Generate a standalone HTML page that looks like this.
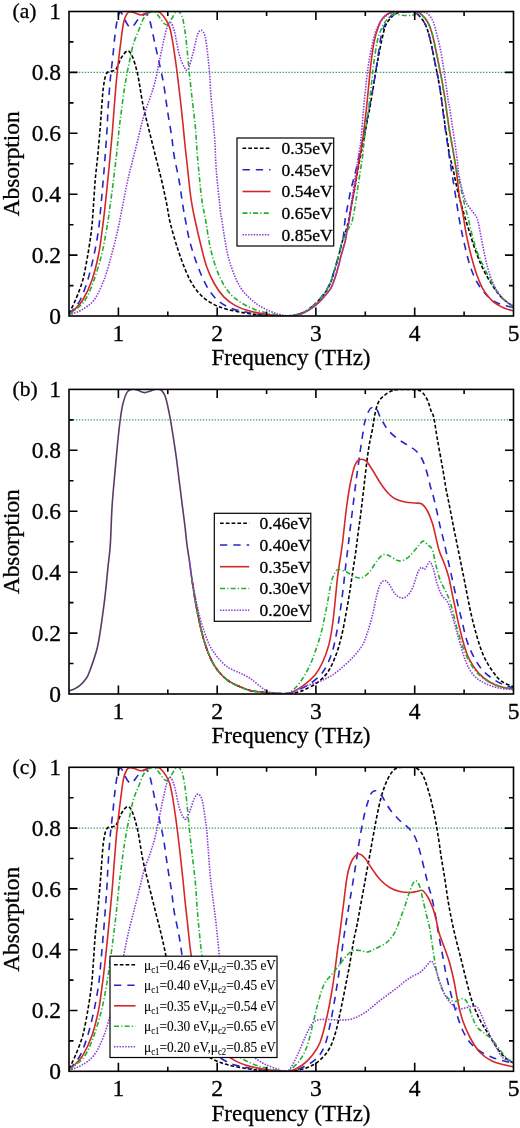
<!DOCTYPE html><html><head><meta charset="utf-8"><style>html,body{margin:0;padding:0;background:#fff;}svg{display:block;}</style></head><body>
<svg width="520" height="1128" viewBox="0 0 520 1128">
<rect width="520" height="1128" fill="#fff"/>
<clipPath id="clipa"><rect x="69.0" y="11.5" width="444.5" height="304.5"/></clipPath>
<line x1="73.0" x2="513.5" y1="72.4" y2="72.4" stroke="#38a060" stroke-width="1.4" stroke-dasharray="1.4 1.55"/>
<g clip-path="url(#clipa)" fill="none" stroke-width="1.60" stroke-linejoin="round">
<path d="M69.0 313.5 C69.3 312.8 69.9 311.8 71.0 309.5 C72.1 307.2 73.5 304.9 75.5 300.0 C77.5 295.1 80.7 287.5 82.8 280.0 C84.8 272.5 86.3 263.3 87.8 255.0 C89.2 246.7 90.5 238.3 91.5 230.0 C92.5 221.7 92.9 213.3 93.5 205.0 C94.1 196.7 94.5 188.3 95.2 180.0 C96.0 171.7 97.0 163.3 97.8 155.0 C98.5 146.7 99.4 137.5 100.0 130.0 C100.6 122.5 101.0 117.0 101.5 110.0 C102.0 103.0 102.6 93.7 103.3 88.0 C104.0 82.3 104.6 78.8 105.5 76.0 C106.4 73.2 107.3 72.3 108.5 71.5 C109.7 70.7 111.2 71.5 112.5 71.0 C113.8 70.5 115.0 70.8 116.5 68.5 C118.0 66.2 119.6 60.5 121.5 57.5 C123.4 54.5 125.9 50.8 127.8 50.8 C129.6 50.8 131.1 53.5 132.8 57.5 C134.4 61.5 136.0 67.1 137.8 75.0 C139.5 82.9 141.1 95.8 143.0 105.0 C144.9 114.2 147.0 121.7 149.0 130.0 C151.0 138.3 153.2 146.7 155.2 155.0 C157.3 163.3 159.6 172.0 161.5 180.0 C163.4 188.0 165.0 195.7 166.5 203.0 C168.0 210.3 168.6 216.4 170.5 224.0 C172.4 231.6 175.2 241.1 177.7 248.8 C180.2 256.5 182.8 263.9 185.4 270.0 C188.0 276.1 190.2 280.9 193.1 285.4 C196.0 289.9 199.2 293.7 202.7 296.9 C206.2 300.1 210.0 302.5 214.2 304.6 C218.4 306.7 222.2 307.9 227.7 309.4 C233.1 310.8 240.5 312.3 246.9 313.3 C253.3 314.3 259.6 315.0 266.0 315.5 C272.4 316.0 279.3 316.5 285.0 316.2 C290.7 315.9 296.2 314.9 300.0 313.8 C303.8 312.7 305.3 311.6 308.0 309.8 C310.7 308.0 313.5 305.5 316.1 303.0 C318.7 300.5 321.2 298.1 323.5 295.0 C325.8 291.9 328.1 288.3 329.9 284.5 C331.7 280.7 332.8 276.2 334.1 272.0 C335.4 267.8 336.6 263.6 337.9 259.0 C339.1 254.4 340.7 248.2 341.6 244.5 C342.5 240.8 342.9 238.8 343.5 237.0 C344.1 235.2 344.4 235.7 345.0 234.0 C345.6 232.3 346.4 229.3 347.0 227.1 C347.6 224.9 347.9 223.7 348.5 220.8 C349.1 218.0 349.8 213.5 350.5 210.0 C351.2 206.5 351.8 203.7 352.5 200.0 C353.2 196.3 354.1 192.2 354.8 188.0 C355.6 183.8 356.2 179.3 357.0 175.0 C357.8 170.7 358.5 166.2 359.3 162.0 C360.1 157.8 360.8 154.3 361.7 150.0 C362.6 145.7 363.6 140.7 364.5 136.0 C365.4 131.3 366.1 126.7 367.0 122.0 C367.9 117.3 368.6 114.6 369.8 108.0 C371.0 101.4 372.7 90.4 374.0 82.6 C375.3 74.8 376.3 68.4 377.6 61.3 C378.9 54.2 380.5 45.8 381.8 40.0 C383.1 34.2 384.0 29.9 385.2 26.5 C386.4 23.1 387.6 21.8 389.2 19.8 C390.8 17.8 392.8 15.6 394.6 14.4 C396.4 13.2 397.4 12.8 400.0 12.4 C402.6 12.0 407.5 12.0 410.0 12.0 C412.5 12.0 413.5 12.0 415.0 12.6 C416.5 13.2 417.5 13.9 419.2 15.8 C420.9 17.7 423.4 20.9 425.0 23.8 C426.6 26.7 427.4 29.6 428.5 33.1 C429.6 36.6 430.4 40.8 431.3 44.6 C432.2 48.5 432.9 52.4 433.7 56.2 C434.5 60.1 435.2 63.9 436.0 67.7 C436.8 71.5 437.5 75.0 438.3 79.2 C439.1 83.4 440.0 89.2 440.6 93.0 C441.2 96.8 441.2 96.9 441.9 102.0 C442.6 107.1 443.8 116.6 444.8 123.4 C445.8 130.2 446.9 137.2 447.7 142.6 C448.5 148.0 448.7 151.7 449.6 156.0 C450.5 160.3 451.6 162.6 452.9 168.3 C454.2 174.0 455.8 183.2 457.5 190.2 C459.2 197.2 461.1 203.9 462.9 210.3 C464.7 216.7 466.4 222.2 468.4 228.6 C470.4 235.0 472.5 242.2 474.8 248.6 C477.1 255.0 479.4 261.1 482.1 266.9 C484.8 272.7 488.1 278.5 491.2 283.4 C494.2 288.3 497.0 292.5 500.4 296.1 C503.8 299.8 509.0 303.5 511.3 305.3 C513.6 307.1 513.5 306.7 514.0 307.0" stroke="#000000" stroke-dasharray="3.7 2.1"/>
<path d="M69.0 314.0 C69.6 313.3 70.9 312.3 72.8 310.0 C74.6 307.7 77.8 305.0 80.2 300.0 C82.8 295.0 85.5 287.5 87.8 280.0 C90.0 272.5 92.2 263.3 94.0 255.0 C95.8 246.7 97.3 238.3 98.5 230.0 C99.7 221.7 100.2 213.3 101.0 205.0 C101.8 196.7 102.5 188.3 103.2 180.0 C104.0 171.7 104.6 163.3 105.2 155.0 C105.9 146.7 106.5 137.5 107.0 130.0 C107.5 122.5 107.5 117.5 108.0 110.0 C108.5 102.5 109.2 92.0 109.8 85.0 C110.3 78.0 110.9 73.1 111.5 68.0 C112.1 62.9 112.5 59.4 113.1 54.2 C113.6 49.0 114.2 41.8 114.8 36.8 C115.4 31.8 115.9 27.6 116.5 24.0 C117.1 20.4 117.8 16.9 118.5 15.0 C119.2 13.1 120.1 11.8 121.0 12.3 C121.9 12.8 122.9 15.9 124.0 18.0 C125.1 20.1 126.6 23.4 127.8 25.0 C128.9 26.6 130.0 27.5 131.0 27.5 C132.0 27.5 132.8 26.4 134.0 25.0 C135.2 23.6 136.8 20.8 138.5 19.0 C140.2 17.2 142.6 15.3 144.0 14.5 C145.4 13.7 146.0 12.8 147.0 14.0 C148.0 15.2 148.9 16.8 150.2 22.0 C151.6 27.2 153.6 37.4 155.2 45.0 C156.9 52.6 158.8 60.7 160.2 67.5 C161.7 74.3 162.8 78.6 164.0 86.0 C165.2 93.4 166.4 103.8 167.7 112.0 C168.9 120.2 170.4 127.8 171.5 135.0 C172.6 142.2 172.8 147.5 174.0 155.0 C175.2 162.5 177.5 171.7 179.0 180.0 C180.5 188.3 181.7 198.3 182.8 205.0 C183.8 211.7 184.3 214.3 185.4 220.0 C186.5 225.7 187.6 232.8 189.2 239.2 C190.8 245.6 192.9 252.4 195.0 258.5 C197.1 264.6 199.4 270.7 201.7 275.8 C203.9 280.9 205.8 285.0 208.5 289.2 C211.2 293.4 214.3 297.6 218.1 300.8 C221.9 304.0 226.7 306.6 231.5 308.5 C236.3 310.4 241.3 311.2 246.9 312.3 C252.5 313.4 258.6 314.7 265.0 315.3 C271.4 315.9 279.2 316.4 285.0 316.2 C290.8 315.9 296.2 314.9 300.0 313.8 C303.8 312.7 305.3 311.6 308.0 309.8 C310.7 308.0 313.5 305.4 316.1 302.8 C318.7 300.2 321.2 297.5 323.5 294.3 C325.8 291.1 328.1 287.5 329.9 283.6 C331.7 279.7 332.8 275.1 334.1 270.9 C335.4 266.6 336.6 262.7 337.9 258.1 C339.1 253.5 340.7 246.7 341.6 243.2 C342.5 239.7 342.8 239.8 343.3 236.9 C343.8 234.0 344.0 229.4 344.4 226.0 C344.8 222.6 345.2 218.5 345.6 216.2 C346.0 213.9 346.0 214.5 346.5 212.0 C347.0 209.5 347.8 205.2 348.6 201.1 C349.4 197.0 350.3 192.0 351.4 187.5 C352.5 183.0 353.9 178.5 355.0 173.9 C356.1 169.3 357.2 164.8 358.3 160.0 C359.4 155.2 360.4 150.0 361.5 145.0 C362.6 140.0 363.6 136.7 365.0 130.0 C366.4 123.3 368.3 112.9 369.8 105.0 C371.3 97.1 372.8 89.9 374.0 82.6 C375.2 75.3 376.2 68.4 377.3 61.3 C378.4 54.2 379.3 45.7 380.4 40.0 C381.5 34.3 382.8 30.2 384.0 27.0 C385.2 23.8 386.2 22.5 387.5 20.5 C388.8 18.5 390.2 16.3 392.0 15.0 C393.8 13.7 395.0 13.0 398.0 12.5 C401.0 12.0 407.2 11.9 410.0 12.0 C412.8 12.1 413.5 12.2 415.0 12.8 C416.5 13.4 417.5 14.0 419.2 15.8 C420.9 17.6 423.4 20.9 425.0 23.8 C426.6 26.7 427.4 29.6 428.5 33.1 C429.6 36.6 430.4 40.8 431.3 44.6 C432.2 48.5 432.9 52.4 433.7 56.2 C434.5 60.1 435.2 63.9 436.0 67.7 C436.8 71.5 437.5 75.0 438.3 79.2 C439.1 83.4 440.0 89.2 440.6 93.0 C441.2 96.8 441.2 96.9 441.9 102.0 C442.5 107.1 443.6 116.6 444.5 123.4 C445.4 130.2 446.6 137.8 447.3 142.6 C448.0 147.4 448.0 147.7 448.6 152.0 C449.2 156.3 450.1 161.9 451.1 168.3 C452.1 174.7 453.3 181.7 454.7 190.2 C456.1 198.7 457.8 210.9 459.3 219.4 C460.8 227.9 462.1 234.0 463.8 241.3 C465.5 248.6 467.2 256.6 469.3 263.3 C471.4 270.0 473.6 276.0 476.6 281.5 C479.7 287.0 483.9 292.4 487.6 296.1 C491.3 299.8 494.7 301.7 498.6 303.5 C502.6 305.3 508.7 306.4 511.3 307.1 C513.9 307.8 513.5 307.4 514.0 307.5" stroke="#2525c8" stroke-dasharray="7.3 6"/>
<path d="M69.0 314.5 C69.8 313.8 71.7 312.4 74.0 310.0 C76.3 307.6 79.8 305.0 82.8 300.0 C85.8 295.0 89.4 287.5 92.0 280.0 C94.6 272.5 96.8 263.3 98.5 255.0 C100.2 246.7 101.1 238.3 102.2 230.0 C103.4 221.7 104.3 213.3 105.2 205.0 C106.2 196.7 106.9 188.3 107.8 180.0 C108.6 171.7 109.5 163.3 110.2 155.0 C111.0 146.7 111.9 137.5 112.5 130.0 C113.1 122.5 113.4 117.5 114.0 110.0 C114.6 102.5 115.4 92.0 116.0 85.0 C116.6 78.0 117.0 74.1 117.7 68.0 C118.4 61.9 119.0 55.9 120.0 48.4 C121.0 40.9 122.3 28.8 123.5 23.0 C124.7 17.2 125.9 15.7 127.0 13.8 C128.1 11.9 128.7 11.9 130.0 11.8 C131.3 11.7 133.2 12.5 135.0 13.0 C136.8 13.5 138.9 15.1 141.0 15.0 C143.1 14.9 145.7 13.2 147.7 12.6 C149.7 12.0 151.3 11.6 153.0 11.5 C154.7 11.4 156.8 11.6 158.0 11.8 C159.2 12.1 159.2 11.7 160.5 13.0 C161.8 14.3 164.3 17.2 165.8 19.6 C167.3 22.0 168.5 23.8 169.6 27.3 C170.7 30.8 171.5 35.3 172.5 40.8 C173.5 46.2 174.5 53.9 175.4 60.0 C176.3 66.1 176.9 70.9 177.7 77.3 C178.5 83.7 179.3 90.5 180.2 98.5 C181.1 106.5 182.3 117.7 183.1 125.4 C183.9 133.2 184.3 138.4 185.0 145.0 C185.7 151.6 186.2 156.3 187.2 165.0 C188.2 173.7 189.5 188.1 190.8 197.3 C192.1 206.5 193.3 212.1 195.0 220.0 C196.7 227.9 198.9 237.3 200.8 245.0 C202.7 252.7 204.3 259.8 206.5 266.2 C208.7 272.6 211.3 278.4 214.2 283.5 C217.1 288.6 220.3 293.2 223.8 296.9 C227.3 300.6 230.9 303.2 235.4 305.6 C239.9 308.0 245.7 309.9 250.8 311.3 C255.9 312.7 260.5 313.4 266.2 314.2 C271.9 315.0 281.0 315.7 285.0 316.0 C289.0 316.3 287.5 316.3 290.0 316.0 C292.5 315.7 297.0 315.1 300.0 314.2 C303.0 313.3 305.3 312.1 308.0 310.5 C310.7 308.9 313.5 307.1 316.1 304.9 C318.7 302.7 321.0 300.2 323.5 297.4 C326.0 294.6 329.1 291.3 331.0 287.9 C332.9 284.5 333.9 281.1 335.2 277.2 C336.5 273.3 337.9 268.0 338.9 264.5 C339.9 261.0 339.9 259.9 341.0 256.0 C342.1 252.1 344.3 245.1 345.3 241.0 C346.3 236.9 346.4 234.3 347.0 231.2 C347.6 228.1 348.2 225.7 348.8 222.5 C349.4 219.3 349.9 215.8 350.5 212.0 C351.1 208.2 351.8 204.0 352.5 200.0 C353.2 196.0 353.9 192.2 354.6 188.0 C355.3 183.8 356.0 179.2 356.7 175.0 C357.4 170.8 358.0 167.0 358.7 163.0 C359.4 159.0 360.2 154.9 360.9 151.0 C361.6 147.1 361.8 146.0 362.7 139.3 C363.6 132.6 365.1 120.4 366.2 110.9 C367.2 101.5 368.2 90.9 369.0 82.6 C369.8 74.3 370.3 68.4 371.2 61.3 C372.1 54.2 373.3 45.8 374.5 40.0 C375.7 34.2 377.2 30.1 378.5 26.5 C379.8 22.9 380.9 20.6 382.5 18.5 C384.1 16.4 385.9 14.8 387.9 13.7 C389.9 12.6 390.9 12.1 394.6 11.7 C398.3 11.3 406.3 11.5 410.0 11.5 C413.7 11.5 415.1 11.3 417.0 11.8 C418.9 12.3 419.8 13.0 421.5 14.6 C423.2 16.2 425.7 18.8 427.3 21.5 C428.9 24.2 430.2 27.3 431.3 30.8 C432.4 34.3 433.2 38.1 434.2 42.3 C435.2 46.5 436.2 52.0 437.1 56.2 C438.0 60.4 438.6 63.9 439.4 67.7 C440.2 71.5 440.9 75.0 441.7 79.2 C442.5 83.4 443.4 89.5 444.0 93.0 C444.6 96.5 444.8 97.2 445.2 100.0 C445.6 102.8 445.9 105.5 446.5 110.0 C447.1 114.5 448.1 121.9 448.9 127.2 C449.7 132.5 450.7 137.4 451.5 142.0 C452.3 146.6 453.0 150.0 453.8 155.0 C454.6 160.0 455.6 165.1 456.5 171.9 C457.4 178.7 458.2 188.7 459.3 195.7 C460.4 202.7 461.7 207.2 462.9 213.9 C464.1 220.6 465.2 228.9 466.6 235.9 C468.0 242.9 469.5 249.6 471.2 256.0 C472.9 262.4 474.5 268.4 476.6 274.2 C478.7 280.0 481.1 286.1 483.9 290.7 C486.6 295.3 489.8 298.7 493.1 301.6 C496.5 304.5 500.5 306.4 504.0 308.0 C507.5 309.6 512.3 310.5 514.0 311.0" stroke="#d42828"/>
<path d="M69.0 314.8 C70.0 314.0 72.5 312.5 75.2 310.0 C78.0 307.5 82.1 305.0 85.2 300.0 C88.4 295.0 91.3 287.5 94.0 280.0 C96.7 272.5 99.4 263.3 101.5 255.0 C103.6 246.7 105.0 238.3 106.5 230.0 C108.0 221.7 109.1 213.3 110.2 205.0 C111.4 196.7 112.5 188.3 113.5 180.0 C114.5 171.7 115.6 163.3 116.5 155.0 C117.4 146.7 118.2 137.5 119.0 130.0 C119.8 122.5 120.6 117.0 121.5 110.0 C122.4 103.0 123.5 94.2 124.5 88.0 C125.5 81.8 126.4 77.2 127.2 72.5 C128.1 67.8 128.7 65.0 129.8 60.0 C130.8 55.0 132.3 47.4 133.8 42.6 C135.3 37.8 137.0 34.9 138.5 31.0 C140.0 27.1 141.5 22.4 143.0 19.5 C144.5 16.6 145.9 15.1 147.7 13.8 C149.5 12.5 151.9 10.8 154.0 11.5 C156.1 12.2 158.3 16.0 160.0 18.0 C161.7 20.0 162.7 22.4 164.0 23.5 C165.3 24.6 166.4 25.1 167.7 24.4 C168.9 23.6 170.2 21.0 171.5 19.0 C172.8 17.0 174.4 13.8 175.5 12.5 C176.6 11.2 177.4 10.7 178.3 11.0 C179.2 11.3 180.2 13.1 181.0 14.5 C181.8 15.9 182.2 15.6 183.0 19.6 C183.8 23.7 185.0 30.8 186.0 38.8 C187.0 46.8 188.0 59.7 188.8 67.7 C189.6 75.7 190.1 80.5 190.8 86.9 C191.5 93.3 192.2 99.0 193.0 106.0 C193.8 113.0 194.8 120.7 195.6 129.2 C196.3 137.7 196.5 145.6 197.5 156.9 C198.5 168.2 200.2 186.8 201.5 197.3 C202.8 207.8 204.3 212.4 205.6 220.0 C206.9 227.6 208.0 236.0 209.4 243.1 C210.8 250.2 212.3 256.2 214.2 262.3 C216.1 268.4 218.4 274.5 221.0 279.6 C223.6 284.7 226.2 289.2 229.6 293.1 C233.0 297.0 237.0 300.0 241.2 302.7 C245.4 305.4 250.1 307.6 254.6 309.4 C259.1 311.2 263.0 312.2 268.1 313.3 C273.2 314.4 281.4 315.6 285.0 316.0 C288.6 316.4 287.5 316.4 290.0 316.0 C292.5 315.6 297.0 314.8 300.0 313.8 C303.0 312.8 305.3 311.6 308.0 309.8 C310.7 308.0 313.5 305.4 316.1 302.8 C318.7 300.2 321.2 297.5 323.5 294.3 C325.8 291.1 328.1 287.5 329.9 283.6 C331.7 279.7 332.8 275.1 334.1 270.9 C335.4 266.6 336.6 262.7 337.9 258.1 C339.1 253.5 340.5 247.1 341.6 243.5 C342.7 239.9 343.4 238.8 344.5 236.5 C345.6 234.2 346.9 231.6 348.0 229.5 C349.1 227.4 350.5 225.8 351.4 223.7 C352.2 221.6 352.4 220.3 353.1 216.7 C353.8 213.1 355.0 207.0 355.8 201.9 C356.6 196.8 357.3 191.2 358.1 185.9 C358.9 180.6 359.7 175.3 360.5 170.0 C361.3 164.7 362.3 159.1 362.9 154.0 C363.5 148.9 363.4 146.5 364.3 139.3 C365.2 132.1 367.1 120.4 368.3 110.9 C369.5 101.5 370.7 90.9 371.6 82.6 C372.6 74.3 373.0 68.4 374.0 61.3 C375.0 54.2 376.2 45.8 377.6 40.0 C379.0 34.2 380.8 30.1 382.5 26.5 C384.2 22.9 385.9 20.5 387.9 18.5 C389.9 16.5 392.2 14.9 394.6 14.4 C397.0 13.9 399.1 15.2 402.0 15.3 C404.9 15.5 409.2 15.7 412.0 15.3 C414.8 14.9 417.2 13.1 418.8 13.0 C420.4 12.9 420.1 13.2 421.5 14.6 C422.9 16.0 425.7 18.8 427.3 21.5 C428.9 24.2 430.2 27.3 431.3 30.8 C432.4 34.3 433.2 38.1 434.2 42.3 C435.2 46.5 436.2 52.0 437.1 56.2 C438.0 60.4 438.6 63.9 439.4 67.7 C440.2 71.5 440.9 75.0 441.7 79.2 C442.5 83.4 443.4 89.5 444.0 93.0 C444.6 96.5 444.8 97.2 445.2 100.0 C445.6 102.8 445.9 105.5 446.5 110.0 C447.1 114.5 447.9 121.1 448.9 127.2 C449.9 133.3 451.5 140.7 452.5 146.5 C453.5 152.3 454.0 156.8 455.0 162.0 C456.0 167.2 456.9 170.9 458.4 177.4 C459.9 183.9 462.1 194.2 463.8 201.2 C465.5 208.2 466.6 212.1 468.4 219.4 C470.2 226.7 472.5 237.7 474.8 245.0 C477.1 252.3 479.4 257.2 482.1 263.3 C484.8 269.4 488.1 276.0 491.2 281.5 C494.2 287.0 497.0 292.1 500.4 296.1 C503.8 300.1 509.0 303.6 511.3 305.3 C513.6 307.0 513.5 306.3 514.0 306.5" stroke="#22b030" stroke-dasharray="5 2.2 1.2 2.2"/>
<path d="M69.0 315.5 C69.5 315.2 69.9 314.9 72.0 314.0 C74.1 313.1 77.8 312.3 81.5 310.0 C85.2 307.7 90.2 305.0 94.0 300.0 C97.8 295.0 101.1 287.5 104.0 280.0 C106.9 272.5 109.2 263.3 111.5 255.0 C113.8 246.7 115.9 238.3 117.8 230.0 C119.6 221.7 121.1 213.3 122.8 205.0 C124.4 196.7 125.9 188.3 127.8 180.0 C129.6 171.7 131.9 163.3 134.0 155.0 C136.1 146.7 138.6 136.7 140.2 130.0 C141.9 123.3 142.4 120.3 144.0 115.0 C145.6 109.7 148.2 103.5 150.0 98.0 C151.8 92.5 153.3 88.7 155.0 82.0 C156.7 75.3 158.5 65.0 160.0 58.0 C161.5 51.0 162.6 45.3 163.8 40.0 C165.1 34.7 166.4 28.9 167.5 26.0 C168.6 23.1 169.4 21.6 170.6 22.5 C171.8 23.4 173.0 25.9 174.4 31.2 C175.8 36.5 177.6 48.3 179.2 54.2 C180.8 60.1 182.6 64.1 184.0 66.7 C185.4 69.3 186.5 71.7 187.9 69.6 C189.3 67.5 191.1 60.0 192.7 54.2 C194.3 48.4 196.1 39.0 197.5 35.0 C198.9 31.0 200.0 29.9 201.3 30.2 C202.6 30.5 204.1 32.3 205.2 36.9 C206.3 41.5 207.4 51.9 208.1 58.0 C208.8 64.1 209.1 67.1 209.6 73.5 C210.1 79.9 210.4 89.1 211.0 96.5 C211.6 103.9 212.3 110.5 212.9 117.7 C213.5 125.0 214.2 131.2 214.8 140.0 C215.4 148.8 215.4 158.6 216.3 170.4 C217.2 182.2 219.5 202.5 220.4 210.8 C221.3 219.1 221.2 215.3 221.9 220.0 C222.6 224.7 223.7 232.8 224.8 239.2 C225.9 245.6 226.9 252.1 228.7 258.5 C230.5 264.9 233.0 272.2 235.4 277.7 C237.8 283.1 240.2 287.3 243.1 291.2 C246.0 295.1 249.2 297.9 252.7 300.8 C256.2 303.7 260.0 306.3 264.2 308.5 C268.4 310.7 273.7 312.8 278.0 314.0 C282.3 315.2 286.3 316.0 290.0 316.0 C293.7 316.0 297.0 315.1 300.0 314.2 C303.0 313.3 305.3 312.1 308.0 310.5 C310.7 308.9 313.5 307.1 316.1 304.9 C318.7 302.7 321.0 300.2 323.5 297.4 C326.0 294.6 329.1 291.3 331.0 287.9 C332.9 284.5 333.9 281.1 335.2 277.2 C336.5 273.3 337.9 268.0 338.9 264.5 C339.9 261.0 340.0 259.9 341.0 256.0 C342.0 252.1 344.1 245.1 345.1 241.0 C346.1 236.9 346.2 234.3 346.8 231.2 C347.4 228.1 348.0 225.7 348.5 222.5 C349.0 219.3 349.4 215.8 350.0 212.0 C350.6 208.2 351.2 204.0 351.8 200.0 C352.4 196.0 353.0 192.2 353.6 188.0 C354.2 183.8 354.9 179.2 355.5 175.0 C356.1 170.8 356.8 167.0 357.4 163.0 C358.0 159.0 358.7 154.9 359.3 151.0 C359.9 147.1 360.3 146.0 361.0 139.3 C361.7 132.6 362.5 120.4 363.4 110.9 C364.3 101.5 365.3 90.9 366.2 82.6 C367.1 74.3 367.8 68.4 369.0 61.3 C370.2 54.2 372.0 45.5 373.3 40.0 C374.6 34.5 375.5 31.4 377.0 28.0 C378.5 24.6 379.8 22.0 382.3 19.5 C384.8 17.0 387.3 14.1 391.9 12.8 C396.5 11.6 405.3 12.1 410.0 12.0 C414.7 11.9 417.1 11.8 420.0 12.0 C422.9 12.2 425.1 11.9 427.3 13.5 C429.5 15.1 431.6 18.2 433.1 21.5 C434.6 24.8 435.4 29.2 436.5 33.1 C437.6 37.0 438.5 40.8 439.4 44.6 C440.3 48.5 441.0 52.4 441.7 56.2 C442.4 60.1 442.9 63.9 443.5 67.7 C444.1 71.5 444.6 75.4 445.2 79.2 C445.8 83.0 446.4 87.3 446.9 90.8 C447.4 94.3 447.6 96.8 448.1 100.0 C448.6 103.2 449.3 105.5 450.0 110.0 C450.7 114.5 451.6 121.1 452.5 127.2 C453.4 133.3 454.6 141.0 455.4 146.5 C456.2 152.0 456.6 154.8 457.3 160.0 C458.0 165.2 457.9 170.5 459.3 177.4 C460.7 184.3 463.4 195.4 465.7 201.2 C468.0 207.0 471.0 209.1 473.0 212.1 C475.0 215.1 476.1 215.1 477.5 219.4 C478.9 223.7 480.0 231.6 481.2 237.7 C482.4 243.8 483.7 250.5 484.9 256.0 C486.1 261.5 486.8 265.4 488.5 270.6 C490.2 275.8 492.3 282.1 494.9 287.0 C497.5 291.9 500.8 296.6 504.0 299.8 C507.2 303.0 512.3 305.1 514.0 306.2" stroke="#8c3cd8" stroke-dasharray="1.5 1.3"/>
</g>
<rect x="69.0" y="11.5" width="444.5" height="304.5" fill="none" stroke="#000" stroke-width="1.6"/>
<path d="M118.4 316.0 v-8.5 M118.4 11.5 v8.5 M167.8 316.0 v-4.5 M167.8 11.5 v4.5 M217.2 316.0 v-8.5 M217.2 11.5 v8.5 M266.6 316.0 v-4.5 M266.6 11.5 v4.5 M315.9 316.0 v-8.5 M315.9 11.5 v8.5 M365.3 316.0 v-4.5 M365.3 11.5 v4.5 M414.7 316.0 v-8.5 M414.7 11.5 v8.5 M464.1 316.0 v-4.5 M464.1 11.5 v4.5 M69.0 285.6 h4.5 M513.5 285.6 h-4.5 M69.0 255.1 h8.5 M513.5 255.1 h-8.5 M69.0 224.7 h4.5 M513.5 224.7 h-4.5 M69.0 194.2 h8.5 M513.5 194.2 h-8.5 M69.0 163.8 h4.5 M513.5 163.8 h-4.5 M69.0 133.3 h8.5 M513.5 133.3 h-8.5 M69.0 102.9 h4.5 M513.5 102.9 h-4.5 M69.0 72.4 h8.5 M513.5 72.4 h-8.5 M69.0 41.9 h4.5 M513.5 41.9 h-4.5" stroke="#000" stroke-width="1.6" fill="none"/>
<text x="61" y="323.9" text-anchor="end" font-size="23.5" font-family="Liberation Serif, Times New Roman, serif" stroke="#000" stroke-width="0.3">0</text>
<text x="61" y="263.0" text-anchor="end" font-size="23.5" font-family="Liberation Serif, Times New Roman, serif" stroke="#000" stroke-width="0.3">0.2</text>
<text x="61" y="202.1" text-anchor="end" font-size="23.5" font-family="Liberation Serif, Times New Roman, serif" stroke="#000" stroke-width="0.3">0.4</text>
<text x="61" y="141.2" text-anchor="end" font-size="23.5" font-family="Liberation Serif, Times New Roman, serif" stroke="#000" stroke-width="0.3">0.6</text>
<text x="61" y="80.3" text-anchor="end" font-size="23.5" font-family="Liberation Serif, Times New Roman, serif" stroke="#000" stroke-width="0.3">0.8</text>
<text x="61" y="19.4" text-anchor="end" font-size="23.5" font-family="Liberation Serif, Times New Roman, serif" stroke="#000" stroke-width="0.3">1</text>
<text x="118.4" y="340.5" text-anchor="middle" font-size="23.5" font-family="Liberation Serif, Times New Roman, serif" stroke="#000" stroke-width="0.3">1</text>
<text x="217.2" y="340.5" text-anchor="middle" font-size="23.5" font-family="Liberation Serif, Times New Roman, serif" stroke="#000" stroke-width="0.3">2</text>
<text x="315.9" y="340.5" text-anchor="middle" font-size="23.5" font-family="Liberation Serif, Times New Roman, serif" stroke="#000" stroke-width="0.3">3</text>
<text x="414.7" y="340.5" text-anchor="middle" font-size="23.5" font-family="Liberation Serif, Times New Roman, serif" stroke="#000" stroke-width="0.3">4</text>
<text x="513.5" y="340.5" text-anchor="middle" font-size="23.5" font-family="Liberation Serif, Times New Roman, serif" stroke="#000" stroke-width="0.3">5</text>
<text x="291.0" y="365.2" text-anchor="middle" font-size="23" font-family="Liberation Serif, Times New Roman, serif" stroke="#000" stroke-width="0.3">Frequency (THz)</text>
<text transform="translate(18.8 163.8) rotate(-90)" text-anchor="middle" font-size="23.3" font-family="Liberation Serif, Times New Roman, serif" stroke="#000" stroke-width="0.3">Absorption</text>
<text x="12.5" y="18.0" font-size="21.5" font-family="Liberation Serif, Times New Roman, serif" stroke="#000" stroke-width="0.3">(a)</text>
<clipPath id="clipb"><rect x="69.0" y="389.4" width="444.5" height="304.6"/></clipPath>
<line x1="73.0" x2="513.5" y1="419.9" y2="419.9" stroke="#38a060" stroke-width="1.4" stroke-dasharray="1.4 1.55"/>
<g clip-path="url(#clipb)" fill="none" stroke-width="1.60" stroke-linejoin="round">
<path d="M69.0 691.0 C70.0 690.6 73.2 689.6 75.0 688.6 C76.8 687.6 78.3 686.7 80.0 685.3 C81.7 683.9 83.5 682.1 85.0 680.0 C86.5 677.9 87.2 677.9 89.2 672.5 C91.2 667.1 95.2 656.3 97.3 647.7 C99.4 639.1 100.5 629.8 101.8 620.8 C103.1 611.8 104.3 602.9 105.3 593.9 C106.3 584.9 107.2 575.0 108.0 566.9 C108.8 558.8 109.6 555.1 110.3 545.0 C111.0 534.9 111.3 518.0 112.1 506.2 C112.8 494.3 113.9 484.2 114.8 473.9 C115.7 463.6 116.6 453.2 117.5 444.2 C118.4 435.2 119.3 426.7 120.2 420.0 C121.1 413.3 121.8 408.3 122.9 403.8 C124.0 399.3 125.4 395.3 126.6 393.0 C127.8 390.7 128.8 390.4 130.0 389.8 C131.2 389.2 132.2 389.1 133.5 389.2 C134.8 389.3 136.2 389.7 138.0 390.3 C139.8 390.9 142.3 392.5 144.4 392.6 C146.5 392.7 148.6 391.6 150.5 391.0 C152.4 390.4 154.4 389.5 156.0 389.3 C157.6 389.1 158.8 389.1 160.0 389.6 C161.2 390.1 162.0 390.7 163.0 392.2 C164.0 393.7 164.7 394.3 165.9 398.5 C167.1 402.7 168.9 411.5 170.0 417.3 C171.1 423.1 171.6 426.3 172.7 433.5 C173.8 440.7 175.4 450.5 176.7 460.4 C178.0 470.3 179.3 481.9 180.7 492.7 C182.0 503.5 183.8 516.3 184.8 525.0 C185.9 533.7 186.2 539.2 187.0 545.0 C187.8 550.8 188.5 554.4 189.3 560.0 C190.1 565.6 191.4 575.5 191.8 578.6" stroke="#5a3a66" stroke-width="1.60"/>
<path d="M191.8 578.6 C192.2 581.3 193.4 589.2 194.3 594.8 C195.2 600.4 196.3 606.4 197.4 612.2 C198.5 618.0 199.7 623.8 201.1 629.6 C202.5 635.4 204.2 641.6 206.1 647.0 C208.0 652.4 210.0 657.6 212.3 661.9 C214.6 666.2 216.9 669.7 219.8 673.0 C222.7 676.3 226.3 679.4 229.7 681.7 C233.1 684.0 236.6 685.2 240.0 686.7 C243.4 688.2 245.8 689.5 250.0 690.5 C254.2 691.5 260.0 692.0 265.0 692.5 C270.0 693.0 275.8 693.4 280.0 693.6 C284.2 693.8 287.0 693.9 290.0 693.6 C293.0 693.3 295.5 692.7 298.0 692.0 C300.5 691.3 301.8 691.1 305.0 689.5 C308.2 687.9 313.8 685.3 317.5 682.5 C321.2 679.7 324.6 676.7 327.5 672.5 C330.4 668.3 332.7 663.3 335.0 657.5 C337.3 651.7 339.4 645.0 341.2 637.5 C343.1 630.0 344.8 620.4 346.2 612.5 C347.7 604.6 348.9 597.1 350.0 590.0 C351.1 582.9 352.0 576.7 353.0 570.0 C354.0 563.3 355.1 556.7 356.0 550.0 C356.9 543.3 357.6 536.7 358.5 530.0 C359.4 523.3 360.2 518.8 361.2 510.0 C362.3 501.2 363.8 487.9 365.0 477.5 C366.2 467.1 367.5 455.4 368.8 447.5 C370.0 439.6 371.3 435.5 372.3 430.0 C373.3 424.5 373.9 419.0 374.9 414.4 C375.9 409.8 376.8 405.5 378.4 402.3 C380.0 399.1 382.2 397.3 384.4 395.4 C386.5 393.5 389.4 391.9 391.3 391.0 C393.2 390.1 393.7 390.1 396.0 389.8 C398.3 389.6 401.4 389.5 405.0 389.5 C408.6 389.5 414.4 389.5 417.3 390.0 C420.2 390.5 420.8 390.7 422.5 392.5 C424.2 394.3 426.3 397.5 427.7 400.6 C429.1 403.7 430.1 408.2 431.1 411.0 C432.1 413.8 432.7 412.7 433.8 417.5 C434.8 422.3 436.0 431.7 437.5 440.0 C439.0 448.3 441.0 459.2 442.5 467.5 C444.0 475.8 445.2 484.2 446.2 490.0 C447.3 495.8 447.8 497.2 448.7 502.0 C449.6 506.8 450.6 511.9 451.9 518.5 C453.2 525.1 454.9 533.8 456.5 541.5 C458.1 549.2 459.6 556.9 461.2 564.6 C462.8 572.3 464.3 580.0 465.8 587.7 C467.3 595.4 468.7 603.1 470.4 610.8 C472.1 618.5 474.1 626.6 476.2 633.9 C478.3 641.2 480.4 648.5 483.1 654.6 C485.8 660.8 489.2 666.4 492.3 670.8 C495.4 675.2 497.9 678.5 501.5 681.2 C505.1 683.9 511.9 686.0 514.0 687.0" stroke="#000000" stroke-dasharray="3.7 2.1"/>
<path d="M191.8 578.6 C192.2 581.3 193.4 589.2 194.3 594.8 C195.2 600.4 196.3 606.4 197.4 612.2 C198.5 618.0 199.7 623.8 201.1 629.6 C202.5 635.4 204.2 641.6 206.1 647.0 C208.0 652.4 210.0 657.6 212.3 661.9 C214.6 666.2 216.9 669.7 219.8 673.0 C222.7 676.3 226.3 679.4 229.7 681.7 C233.1 684.0 236.6 685.2 240.0 686.7 C243.4 688.2 245.8 689.5 250.0 690.5 C254.2 691.5 260.0 692.0 265.0 692.5 C270.0 693.0 275.8 693.5 280.0 693.6 C284.2 693.7 287.1 693.6 290.0 693.0 C292.9 692.4 294.2 691.5 297.5 690.0 C300.8 688.5 305.8 686.7 310.0 683.8 C314.2 680.8 319.0 677.3 322.5 672.5 C326.0 667.7 329.0 661.2 331.2 655.0 C333.5 648.8 334.8 642.1 336.2 635.0 C337.7 627.9 338.9 620.0 340.0 612.5 C341.1 605.0 342.1 597.5 343.0 590.0 C343.9 582.5 344.7 574.6 345.5 567.5 C346.3 560.4 347.2 553.8 348.0 547.5 C348.8 541.2 349.2 536.2 350.0 530.0 C350.8 523.8 351.5 518.3 352.5 510.0 C353.5 501.7 355.0 489.6 356.2 480.0 C357.5 470.4 358.8 461.2 360.0 452.5 C361.2 443.8 362.9 433.0 363.8 427.5 C364.6 422.0 364.6 422.4 365.4 419.6 C366.2 416.9 367.8 413.0 368.8 411.0 C369.8 409.0 370.5 408.1 371.4 407.8 C372.3 407.5 373.1 409.1 374.0 409.3 C374.9 409.5 375.6 407.5 376.6 408.8 C377.6 410.1 379.0 414.6 380.1 417.0 C381.2 419.4 382.2 420.8 383.5 423.0 C384.8 425.2 385.7 427.4 388.0 430.0 C390.3 432.6 394.2 436.2 397.5 438.8 C400.8 441.2 404.6 443.1 407.5 445.0 C410.4 446.9 412.7 447.9 415.0 450.0 C417.3 452.1 419.4 454.2 421.2 457.5 C423.1 460.8 424.7 465.1 426.2 470.0 C427.8 474.9 429.3 482.5 430.5 487.0 C431.7 491.5 432.4 492.8 433.5 497.0 C434.6 501.2 435.8 506.8 437.0 512.0 C438.2 517.2 439.3 523.0 440.5 528.0 C441.7 533.0 442.7 536.3 444.0 542.0 C445.3 547.7 447.0 555.4 448.5 562.3 C450.0 569.1 451.6 576.2 453.1 583.1 C454.6 590.0 456.2 597.4 457.7 603.9 C459.2 610.4 460.8 616.1 462.3 622.3 C463.8 628.4 465.0 635.0 466.9 640.8 C468.8 646.6 471.1 651.9 473.8 656.9 C476.5 661.9 479.6 666.9 483.1 670.8 C486.6 674.6 490.8 677.5 494.6 680.0 C498.5 682.5 503.0 684.4 506.2 685.8 C509.4 687.1 512.7 687.7 514.0 688.1" stroke="#2525c8" stroke-dasharray="7.3 6"/>
<path d="M191.8 578.6 C192.2 581.3 193.4 589.2 194.3 594.8 C195.2 600.4 196.3 606.4 197.4 612.2 C198.5 618.0 199.7 623.8 201.1 629.6 C202.5 635.4 204.2 641.6 206.1 647.0 C208.0 652.4 210.0 657.6 212.3 661.9 C214.6 666.2 216.9 669.7 219.8 673.0 C222.7 676.3 226.3 679.4 229.7 681.7 C233.1 684.0 236.6 685.2 240.0 686.7 C243.4 688.2 245.8 689.5 250.0 690.5 C254.2 691.5 260.0 692.0 265.0 692.5 C270.0 693.0 275.8 693.5 280.0 693.6 C284.2 693.7 286.2 694.2 290.0 693.0 C293.8 691.8 298.3 689.2 302.5 686.2 C306.7 683.2 311.7 679.0 315.0 675.0 C318.3 671.0 320.2 667.5 322.5 662.5 C324.8 657.5 327.1 651.2 328.8 645.0 C330.4 638.8 331.5 632.1 332.5 625.0 C333.5 617.9 334.2 610.4 335.0 602.5 C335.8 594.6 336.7 584.6 337.5 577.5 C338.3 570.4 339.2 565.8 340.0 560.0 C340.8 554.2 341.5 551.3 342.5 543.0 C343.5 534.7 345.0 519.7 346.2 510.0 C347.5 500.3 348.5 492.5 350.0 485.0 C351.5 477.5 353.3 469.2 355.0 465.0 C356.7 460.8 358.1 460.1 360.0 459.5 C361.9 458.9 364.2 459.5 366.2 461.2 C368.3 463.0 370.2 466.5 372.5 470.0 C374.8 473.5 377.5 478.8 380.0 482.5 C382.5 486.2 385.0 489.8 387.5 492.5 C390.0 495.2 392.1 497.2 395.0 498.8 C397.9 500.3 401.7 501.3 405.0 502.0 C408.3 502.7 412.2 502.7 415.0 503.0 C417.8 503.3 419.8 502.6 421.9 504.0 C424.0 505.4 426.0 508.3 427.7 511.5 C429.4 514.7 430.9 518.9 432.3 523.1 C433.7 527.3 434.7 532.3 435.8 536.9 C436.9 541.5 437.9 546.6 439.2 550.8 C440.5 555.0 442.2 558.1 443.8 562.3 C445.4 566.5 447.1 571.2 448.5 576.2 C449.9 581.2 450.8 586.9 451.9 592.3 C453.0 597.7 454.2 603.1 455.4 608.5 C456.5 613.9 457.4 618.8 458.8 624.6 C460.2 630.4 461.8 637.3 463.5 643.1 C465.2 648.9 466.7 654.2 469.2 659.2 C471.7 664.2 475.0 669.2 478.5 673.1 C482.0 677.0 486.2 680.0 490.0 682.3 C493.8 684.6 497.5 685.8 501.5 686.9 C505.5 688.0 511.9 688.8 514.0 689.2" stroke="#d42828"/>
<path d="M191.8 578.6 C192.2 581.3 193.4 589.2 194.3 594.8 C195.2 600.4 196.3 606.4 197.4 612.2 C198.5 618.0 199.7 623.8 201.1 629.6 C202.5 635.4 204.2 641.6 206.1 647.0 C208.0 652.4 210.0 657.6 212.3 661.9 C214.6 666.2 216.9 669.7 219.8 673.0 C222.7 676.3 226.3 679.4 229.7 681.7 C233.1 684.0 236.6 685.2 240.0 686.7 C243.4 688.2 245.8 689.5 250.0 690.5 C254.2 691.5 260.0 692.0 265.0 692.5 C270.0 693.0 275.8 693.7 280.0 693.6 C284.2 693.5 286.7 693.9 290.0 692.0 C293.3 690.1 296.7 687.0 300.0 682.5 C303.3 678.0 307.1 671.2 310.0 665.0 C312.9 658.8 315.4 651.2 317.5 645.0 C319.6 638.8 320.8 634.6 322.5 627.5 C324.2 620.4 326.0 610.0 327.5 602.5 C329.0 595.0 330.0 587.5 331.2 582.5 C332.5 577.5 333.8 574.7 335.0 572.5 C336.2 570.3 336.7 569.5 338.8 569.5 C340.8 569.5 344.8 571.2 347.5 572.5 C350.2 573.8 352.5 576.2 355.0 577.0 C357.5 577.8 360.0 578.5 362.5 577.5 C365.0 576.5 367.5 574.2 370.0 571.2 C372.5 568.3 375.2 562.8 377.5 560.0 C379.8 557.2 381.7 555.1 383.8 554.5 C385.8 553.9 387.7 555.2 390.0 556.2 C392.3 557.2 395.3 559.8 397.5 560.5 C399.7 561.2 401.1 561.2 403.0 560.5 C404.9 559.8 406.8 558.7 409.2 556.5 C411.6 554.3 415.0 549.9 417.3 547.3 C419.6 544.7 421.4 541.5 423.1 541.1 C424.8 540.7 426.2 543.6 427.7 545.0 C429.2 546.4 430.9 546.2 432.3 549.5 C433.7 552.8 434.5 559.4 435.8 564.6 C437.1 569.8 438.7 576.2 440.4 580.8 C442.1 585.4 444.5 588.4 446.2 592.3 C447.9 596.1 449.3 598.9 450.8 603.9 C452.3 608.9 453.9 616.5 455.4 622.3 C456.9 628.1 458.1 632.7 460.0 638.5 C461.9 644.3 464.2 651.3 466.9 656.9 C469.6 662.5 472.7 667.8 476.2 671.9 C479.7 676.0 483.5 678.7 487.7 681.2 C491.9 683.7 497.1 685.6 501.5 686.9 C505.9 688.2 511.9 688.8 514.0 689.2" stroke="#22b030" stroke-dasharray="5 2.2 1.2 2.2"/>
<path d="M189.3 560.0 C189.7 563.1 191.0 572.8 191.9 578.6 C192.8 584.4 193.8 589.2 194.9 594.8 C196.0 600.4 197.2 606.4 198.6 612.2 C200.0 618.0 201.7 624.0 203.6 629.6 C205.5 635.2 207.5 641.2 209.8 645.7 C212.1 650.2 214.4 653.4 217.3 656.9 C220.2 660.4 223.4 664.1 227.2 666.8 C231.0 669.5 236.7 671.4 240.0 673.0 C243.3 674.6 244.9 675.3 247.0 676.5 C249.1 677.7 250.3 678.4 252.5 680.0 C254.7 681.6 257.5 684.4 260.0 686.2 C262.5 688.1 264.6 690.0 267.5 691.2 C270.4 692.5 273.8 693.4 277.5 693.6 C281.2 693.8 285.4 693.7 290.0 692.5 C294.6 691.3 300.0 688.1 305.0 686.2 C310.0 684.4 315.4 683.1 320.0 681.2 C324.6 679.4 328.3 677.7 332.5 675.0 C336.7 672.3 341.2 668.3 345.0 665.0 C348.8 661.7 352.1 658.3 355.0 655.0 C357.9 651.7 360.4 648.8 362.5 645.0 C364.6 641.2 365.8 637.5 367.5 632.5 C369.2 627.5 371.0 620.8 372.5 615.0 C374.0 609.2 375.0 602.5 376.2 597.5 C377.5 592.5 378.6 587.8 380.0 585.0 C381.4 582.2 383.0 580.7 384.5 580.5 C386.0 580.3 387.0 581.5 388.8 583.8 C390.5 586.0 392.9 591.4 395.0 593.8 C397.1 596.1 399.2 597.6 401.2 598.0 C403.2 598.4 405.1 597.7 407.0 596.0 C408.9 594.3 411.0 591.4 412.7 587.7 C414.4 584.0 415.9 577.2 417.3 573.8 C418.7 570.4 419.9 568.2 421.2 567.4 C422.5 566.6 423.5 570.1 424.9 569.2 C426.3 568.3 428.1 561.8 429.5 561.8 C430.9 561.8 432.3 565.7 433.5 569.2 C434.7 572.8 435.6 578.9 436.9 583.1 C438.2 587.3 439.8 591.5 441.5 594.6 C443.2 597.7 445.8 598.8 447.3 601.5 C448.9 604.2 449.5 606.6 450.8 610.8 C452.1 615.0 453.9 621.5 455.4 626.9 C456.9 632.3 458.3 637.3 460.0 643.1 C461.7 648.9 463.5 656.1 465.8 661.5 C468.1 666.9 470.5 671.7 473.8 675.4 C477.1 679.1 481.2 681.4 485.4 683.5 C489.6 685.6 494.4 687.1 499.2 688.1 C504.0 689.1 511.5 689.4 514.0 689.7" stroke="#8c3cd8" stroke-dasharray="1.5 1.3"/>
</g>
<rect x="69.0" y="389.4" width="444.5" height="304.6" fill="none" stroke="#000" stroke-width="1.6"/>
<path d="M118.4 694.0 v-8.5 M118.4 389.4 v8.5 M167.8 694.0 v-4.5 M167.8 389.4 v4.5 M217.2 694.0 v-8.5 M217.2 389.4 v8.5 M266.6 694.0 v-4.5 M266.6 389.4 v4.5 M315.9 694.0 v-8.5 M315.9 389.4 v8.5 M365.3 694.0 v-4.5 M365.3 389.4 v4.5 M414.7 694.0 v-8.5 M414.7 389.4 v8.5 M464.1 694.0 v-4.5 M464.1 389.4 v4.5 M69.0 663.5 h4.5 M513.5 663.5 h-4.5 M69.0 633.1 h8.5 M513.5 633.1 h-8.5 M69.0 602.6 h4.5 M513.5 602.6 h-4.5 M69.0 572.2 h8.5 M513.5 572.2 h-8.5 M69.0 541.7 h4.5 M513.5 541.7 h-4.5 M69.0 511.2 h8.5 M513.5 511.2 h-8.5 M69.0 480.8 h4.5 M513.5 480.8 h-4.5 M69.0 450.3 h8.5 M513.5 450.3 h-8.5 M69.0 419.9 h4.5 M513.5 419.9 h-4.5" stroke="#000" stroke-width="1.6" fill="none"/>
<text x="61" y="701.9" text-anchor="end" font-size="23.5" font-family="Liberation Serif, Times New Roman, serif" stroke="#000" stroke-width="0.3">0</text>
<text x="61" y="641.0" text-anchor="end" font-size="23.5" font-family="Liberation Serif, Times New Roman, serif" stroke="#000" stroke-width="0.3">0.2</text>
<text x="61" y="580.1" text-anchor="end" font-size="23.5" font-family="Liberation Serif, Times New Roman, serif" stroke="#000" stroke-width="0.3">0.4</text>
<text x="61" y="519.1" text-anchor="end" font-size="23.5" font-family="Liberation Serif, Times New Roman, serif" stroke="#000" stroke-width="0.3">0.6</text>
<text x="61" y="458.2" text-anchor="end" font-size="23.5" font-family="Liberation Serif, Times New Roman, serif" stroke="#000" stroke-width="0.3">0.8</text>
<text x="61" y="397.3" text-anchor="end" font-size="23.5" font-family="Liberation Serif, Times New Roman, serif" stroke="#000" stroke-width="0.3">1</text>
<text x="118.4" y="718.5" text-anchor="middle" font-size="23.5" font-family="Liberation Serif, Times New Roman, serif" stroke="#000" stroke-width="0.3">1</text>
<text x="217.2" y="718.5" text-anchor="middle" font-size="23.5" font-family="Liberation Serif, Times New Roman, serif" stroke="#000" stroke-width="0.3">2</text>
<text x="315.9" y="718.5" text-anchor="middle" font-size="23.5" font-family="Liberation Serif, Times New Roman, serif" stroke="#000" stroke-width="0.3">3</text>
<text x="414.7" y="718.5" text-anchor="middle" font-size="23.5" font-family="Liberation Serif, Times New Roman, serif" stroke="#000" stroke-width="0.3">4</text>
<text x="513.5" y="718.5" text-anchor="middle" font-size="23.5" font-family="Liberation Serif, Times New Roman, serif" stroke="#000" stroke-width="0.3">5</text>
<text x="291.0" y="743.2" text-anchor="middle" font-size="23" font-family="Liberation Serif, Times New Roman, serif" stroke="#000" stroke-width="0.3">Frequency (THz)</text>
<text transform="translate(18.8 541.7) rotate(-90)" text-anchor="middle" font-size="23.3" font-family="Liberation Serif, Times New Roman, serif" stroke="#000" stroke-width="0.3">Absorption</text>
<text x="12.5" y="395.9" font-size="21.5" font-family="Liberation Serif, Times New Roman, serif" stroke="#000" stroke-width="0.3">(b)</text>
<clipPath id="clipc"><rect x="69.0" y="767.3" width="444.5" height="304.0"/></clipPath>
<line x1="73.0" x2="513.5" y1="828.1" y2="828.1" stroke="#38a060" stroke-width="1.4" stroke-dasharray="1.4 1.55"/>
<g clip-path="url(#clipc)" fill="none" stroke-width="1.60" stroke-linejoin="round">
<path d="M69.0 1068.8 C69.3 1068.1 69.9 1067.1 71.0 1064.8 C72.1 1062.6 73.5 1060.2 75.5 1055.3 C77.5 1050.4 80.7 1042.8 82.8 1035.4 C84.8 1027.9 86.3 1018.7 87.8 1010.4 C89.2 1002.1 90.5 993.8 91.5 985.4 C92.5 977.1 92.9 968.8 93.5 960.5 C94.1 952.2 94.5 943.8 95.2 935.5 C96.0 927.2 97.0 918.9 97.8 910.6 C98.5 902.2 99.4 893.1 100.0 885.6 C100.6 878.1 101.0 872.6 101.5 865.6 C102.0 858.6 102.6 849.3 103.3 843.7 C104.0 838.0 104.6 834.4 105.5 831.7 C106.4 828.9 107.3 828.0 108.5 827.2 C109.7 826.4 111.2 827.2 112.5 826.7 C113.8 826.2 115.0 826.5 116.5 824.2 C118.0 822.0 119.6 816.2 121.5 813.2 C123.4 810.3 125.9 806.5 127.8 806.5 C129.6 806.5 131.1 809.2 132.8 813.2 C134.4 817.3 136.0 822.8 137.8 830.7 C139.5 838.6 141.1 851.5 143.0 860.6 C144.9 869.8 147.0 877.3 149.0 885.6 C151.0 893.9 153.2 902.2 155.2 910.6 C157.3 918.9 159.6 927.5 161.5 935.5 C163.4 943.5 165.0 951.2 166.5 958.5 C168.0 965.8 168.6 971.8 170.5 979.5 C172.4 987.1 175.2 996.6 177.7 1004.2 C180.2 1011.9 182.8 1019.3 185.4 1025.4 C188.0 1031.5 190.2 1036.3 193.1 1040.8 C196.0 1045.2 199.2 1049.0 202.7 1052.2 C206.2 1055.4 210.0 1057.8 214.2 1059.9 C218.4 1062.0 222.2 1063.3 227.7 1064.7 C233.1 1066.2 240.5 1067.6 246.9 1068.6 C253.3 1069.6 258.8 1070.4 266.0 1070.8 C273.2 1071.2 283.1 1071.8 290.0 1071.2 C296.9 1070.7 302.5 1069.4 307.5 1067.5 C312.5 1065.6 316.2 1063.3 320.0 1060.0 C323.8 1056.7 327.3 1052.5 330.0 1047.5 C332.7 1042.5 334.4 1036.7 336.2 1030.0 C338.1 1023.3 339.6 1015.4 341.2 1007.5 C342.9 999.6 344.8 990.0 346.2 982.5 C347.7 975.0 348.8 969.6 350.0 962.5 C351.2 955.4 352.6 946.2 353.8 940.0 C354.9 933.8 355.8 931.3 357.0 925.0 C358.2 918.7 359.7 910.4 361.2 902.0 C362.8 893.6 364.6 883.7 366.2 874.5 C367.9 865.3 369.6 856.2 371.2 847.0 C372.9 837.8 374.6 827.8 376.2 819.5 C377.9 811.2 379.4 803.7 381.2 797.0 C383.1 790.3 385.2 784.2 387.5 779.5 C389.8 774.8 392.1 771.1 395.0 769.0 C397.9 766.9 401.7 767.2 405.0 767.0 C408.3 766.8 412.1 766.2 415.0 767.5 C417.9 768.8 420.2 770.4 422.5 774.5 C424.8 778.6 426.9 785.8 428.8 792.0 C430.6 798.2 432.3 805.3 433.8 812.0 C435.2 818.7 436.2 824.5 437.5 832.0 C438.8 839.5 440.0 849.0 441.2 857.0 C442.5 865.0 443.8 872.0 445.0 880.0 C446.2 888.0 447.3 896.7 448.8 905.0 C450.2 913.3 451.9 921.7 453.8 930.0 C455.6 938.3 457.9 946.7 460.0 955.0 C462.1 963.3 464.2 972.1 466.2 980.0 C468.3 987.9 470.2 995.8 472.5 1002.5 C474.8 1009.2 477.5 1015.0 480.0 1020.0 C482.5 1025.0 485.0 1028.3 487.5 1032.5 C490.0 1036.7 492.5 1041.2 495.0 1045.0 C497.5 1048.8 500.0 1052.3 502.5 1055.0 C505.0 1057.7 508.1 1059.9 510.0 1061.2 C511.9 1062.6 513.3 1062.7 514.0 1063.0" stroke="#000000" stroke-dasharray="3.7 2.1"/>
<path d="M69.0 1069.3 C69.6 1068.6 70.9 1067.6 72.8 1065.3 C74.6 1063.0 77.8 1060.3 80.2 1055.3 C82.8 1050.3 85.5 1042.8 87.8 1035.4 C90.0 1027.9 92.2 1018.7 94.0 1010.4 C95.8 1002.1 97.3 993.8 98.5 985.4 C99.7 977.1 100.2 968.8 101.0 960.5 C101.8 952.2 102.5 943.8 103.2 935.5 C104.0 927.2 104.6 918.9 105.2 910.6 C105.9 902.2 106.5 893.1 107.0 885.6 C107.5 878.1 107.5 873.1 108.0 865.6 C108.5 858.2 109.2 847.7 109.8 840.7 C110.3 833.7 110.9 828.8 111.5 823.7 C112.1 818.6 112.5 815.1 113.1 809.9 C113.6 804.7 114.2 797.6 114.8 792.6 C115.4 787.5 115.9 783.4 116.5 779.8 C117.1 776.2 117.8 772.7 118.5 770.8 C119.2 768.8 120.1 767.6 121.0 768.1 C121.9 768.6 122.9 771.7 124.0 773.8 C125.1 775.9 126.6 779.2 127.8 780.8 C128.9 782.4 130.0 783.3 131.0 783.3 C132.0 783.3 132.8 782.2 134.0 780.8 C135.2 779.4 136.8 776.5 138.5 774.8 C140.2 773.0 142.6 771.1 144.0 770.3 C145.4 769.5 146.0 768.5 147.0 769.8 C148.0 771.0 148.9 772.6 150.2 777.8 C151.6 782.9 153.6 793.2 155.2 800.7 C156.9 808.3 158.8 816.4 160.2 823.2 C161.7 830.0 162.8 834.3 164.0 841.7 C165.2 849.1 166.4 859.5 167.7 867.6 C168.9 875.8 170.4 883.4 171.5 890.6 C172.6 897.8 172.8 903.1 174.0 910.6 C175.2 918.1 177.5 927.2 179.0 935.5 C180.5 943.8 181.7 953.8 182.8 960.5 C183.8 967.1 184.3 969.8 185.4 975.5 C186.5 981.1 187.6 988.2 189.2 994.6 C190.8 1001.0 192.9 1007.8 195.0 1013.9 C197.1 1020.0 199.4 1026.1 201.7 1031.2 C203.9 1036.3 205.8 1040.4 208.5 1044.5 C211.2 1048.7 214.3 1052.9 218.1 1056.1 C221.9 1059.3 226.7 1061.9 231.5 1063.8 C236.3 1065.7 241.3 1066.5 246.9 1067.6 C252.5 1068.7 257.8 1070.0 265.0 1070.6 C272.2 1071.2 283.3 1072.0 290.0 1071.2 C296.7 1070.5 300.4 1068.5 305.0 1066.2 C309.6 1064.0 314.2 1061.0 317.5 1057.5 C320.8 1054.0 322.9 1050.4 325.0 1045.0 C327.1 1039.6 328.5 1031.7 330.0 1025.0 C331.5 1018.3 332.5 1012.1 333.8 1005.0 C335.0 997.9 336.3 990.0 337.5 982.5 C338.7 975.0 339.7 967.5 340.8 960.0 C341.8 952.5 342.8 943.8 343.8 937.5 C344.7 931.2 345.2 928.3 346.2 922.0 C347.3 915.7 348.5 908.2 350.0 899.5 C351.5 890.8 353.3 879.9 355.0 869.5 C356.7 859.1 358.3 846.6 360.0 837.0 C361.7 827.4 363.3 818.9 365.0 812.0 C366.7 805.1 368.7 799.2 370.0 795.8 C371.3 792.3 372.0 792.3 373.0 791.5 C374.0 790.7 375.2 790.6 376.2 790.8 C377.2 790.9 378.0 791.5 379.0 792.5 C380.0 793.5 380.7 794.2 382.5 797.0 C384.3 799.8 387.1 805.5 390.0 809.5 C392.9 813.5 396.9 817.6 400.0 820.8 C403.1 823.9 406.2 825.5 408.8 828.2 C411.2 831.0 413.1 833.0 415.0 837.0 C416.9 841.0 418.3 846.2 420.0 852.0 C421.7 857.8 423.5 866.0 425.0 872.0 C426.5 878.0 427.9 884.0 429.0 888.0 C430.1 892.0 430.5 891.8 431.5 896.0 C432.5 900.2 433.8 906.5 435.0 913.0 C436.2 919.5 437.5 928.0 438.8 935.0 C440.0 942.0 441.2 948.3 442.5 955.0 C443.8 961.7 444.8 968.3 446.2 975.0 C447.7 981.7 449.6 988.8 451.2 995.0 C452.9 1001.2 454.4 1006.7 456.2 1012.5 C458.1 1018.3 460.2 1025.0 462.5 1030.0 C464.8 1035.0 467.1 1039.0 470.0 1042.5 C472.9 1046.0 476.2 1048.8 480.0 1051.2 C483.8 1053.8 488.3 1055.8 492.5 1057.5 C496.7 1059.2 501.4 1060.3 505.0 1061.2 C508.6 1062.2 512.5 1062.7 514.0 1063.0" stroke="#2525c8" stroke-dasharray="7.3 6"/>
<path d="M69.0 1069.8 C69.8 1069.1 71.7 1067.7 74.0 1065.3 C76.3 1062.9 79.8 1060.3 82.8 1055.3 C85.8 1050.3 89.4 1042.8 92.0 1035.4 C94.6 1027.9 96.8 1018.7 98.5 1010.4 C100.2 1002.1 101.1 993.8 102.2 985.4 C103.4 977.1 104.3 968.8 105.2 960.5 C106.2 952.2 106.9 943.8 107.8 935.5 C108.6 927.2 109.5 918.9 110.2 910.6 C111.0 902.2 111.9 893.1 112.5 885.6 C113.1 878.1 113.4 873.1 114.0 865.6 C114.6 858.2 115.4 847.7 116.0 840.7 C116.6 833.7 117.0 829.8 117.7 823.7 C118.4 817.6 119.0 811.6 120.0 804.1 C121.0 796.7 122.3 784.5 123.5 778.8 C124.7 773.0 125.9 771.5 127.0 769.6 C128.1 767.7 128.7 767.7 130.0 767.6 C131.3 767.5 133.2 768.3 135.0 768.8 C136.8 769.3 138.9 770.9 141.0 770.8 C143.1 770.7 145.7 769.0 147.7 768.4 C149.7 767.8 151.3 767.4 153.0 767.3 C154.7 767.2 156.8 767.3 158.0 767.6 C159.2 767.8 159.2 767.5 160.5 768.8 C161.8 770.1 164.3 773.0 165.8 775.4 C167.3 777.8 168.5 779.5 169.6 783.1 C170.7 786.6 171.5 791.1 172.5 796.6 C173.5 802.0 174.5 809.6 175.4 815.7 C176.3 821.8 176.9 826.6 177.7 833.0 C178.5 839.4 179.3 846.2 180.2 854.2 C181.1 862.2 182.3 873.3 183.1 881.0 C183.9 888.8 184.3 894.0 185.0 900.6 C185.7 907.2 186.2 911.8 187.2 920.5 C188.2 929.3 189.5 943.6 190.8 952.8 C192.1 961.9 193.3 967.5 195.0 975.5 C196.7 983.4 198.9 992.7 200.8 1000.4 C202.7 1008.1 204.3 1015.2 206.5 1021.6 C208.7 1028.0 211.3 1033.7 214.2 1038.9 C217.1 1044.0 220.3 1048.6 223.8 1052.2 C227.3 1055.9 230.9 1058.5 235.4 1060.9 C239.9 1063.3 245.7 1065.2 250.8 1066.6 C255.9 1068.0 260.5 1068.7 266.2 1069.5 C271.9 1070.3 281.0 1071.0 285.0 1071.3 C289.0 1071.6 287.1 1072.3 290.0 1071.2 C292.9 1070.2 298.8 1067.7 302.5 1065.0 C306.2 1062.3 309.6 1058.8 312.5 1055.0 C315.4 1051.2 317.7 1048.3 320.0 1042.5 C322.3 1036.7 324.4 1027.9 326.2 1020.0 C328.1 1012.1 329.8 1003.3 331.2 995.0 C332.7 986.7 334.0 977.5 335.0 970.0 C336.0 962.5 336.7 956.3 337.5 950.0 C338.3 943.7 339.0 940.0 340.0 932.0 C341.0 924.0 342.5 911.6 343.8 902.0 C345.0 892.4 346.0 881.6 347.5 874.5 C349.0 867.4 350.6 862.9 352.5 859.5 C354.4 856.1 356.7 854.2 358.8 854.0 C360.8 853.8 362.7 855.7 365.0 858.2 C367.3 860.8 370.0 866.0 372.5 869.5 C375.0 873.0 377.1 876.5 380.0 879.5 C382.9 882.5 386.7 885.8 390.0 887.8 C393.3 889.8 396.7 890.7 400.0 891.5 C403.3 892.3 407.1 892.5 410.0 892.5 C412.9 892.5 415.4 891.6 417.5 891.2 C419.6 890.9 420.8 889.7 422.5 890.6 C424.2 891.5 425.8 893.7 427.5 896.5 C429.2 899.3 431.0 903.4 432.5 907.3 C434.0 911.2 435.2 915.9 436.2 920.0 C437.3 924.1 437.7 928.2 438.8 932.0 C439.8 935.8 440.8 937.8 442.5 942.5 C444.2 947.2 446.9 953.8 448.8 960.0 C450.6 966.2 452.3 973.3 453.8 980.0 C455.2 986.7 456.0 993.3 457.5 1000.0 C459.0 1006.7 460.4 1013.8 462.5 1020.0 C464.6 1026.2 467.1 1032.1 470.0 1037.5 C472.9 1042.9 476.2 1048.5 480.0 1052.5 C483.8 1056.5 488.3 1059.2 492.5 1061.2 C496.7 1063.3 501.4 1064.0 505.0 1065.0 C508.6 1066.0 512.5 1066.7 514.0 1067.0" stroke="#d42828"/>
<path d="M69.0 1070.1 C70.0 1069.3 72.5 1067.8 75.2 1065.3 C78.0 1062.8 82.1 1060.3 85.2 1055.3 C88.4 1050.3 91.3 1042.8 94.0 1035.4 C96.7 1027.9 99.4 1018.7 101.5 1010.4 C103.6 1002.1 105.0 993.8 106.5 985.4 C108.0 977.1 109.1 968.8 110.2 960.5 C111.4 952.2 112.5 943.8 113.5 935.5 C114.5 927.2 115.6 918.9 116.5 910.6 C117.4 902.2 118.2 893.1 119.0 885.6 C119.8 878.1 120.6 872.6 121.5 865.6 C122.4 858.6 123.5 849.9 124.5 843.7 C125.5 837.4 126.4 832.9 127.2 828.2 C128.1 823.5 128.7 820.7 129.8 815.7 C130.8 810.7 132.3 803.2 133.8 798.3 C135.3 793.5 137.0 790.6 138.5 786.8 C140.0 782.9 141.5 778.1 143.0 775.3 C144.5 772.4 145.9 770.9 147.7 769.6 C149.5 768.3 151.9 766.6 154.0 767.3 C156.1 768.0 158.3 771.8 160.0 773.8 C161.7 775.8 162.7 778.2 164.0 779.3 C165.3 780.3 166.4 780.9 167.7 780.2 C168.9 779.4 170.2 776.8 171.5 774.8 C172.8 772.8 174.4 769.6 175.5 768.3 C176.6 767.0 177.4 766.5 178.3 766.8 C179.2 767.1 180.2 768.9 181.0 770.3 C181.8 771.7 182.2 771.3 183.0 775.4 C183.8 779.4 185.0 786.6 186.0 794.6 C187.0 802.6 188.0 815.4 188.8 823.4 C189.6 831.4 190.1 836.2 190.8 842.6 C191.5 848.9 192.2 854.6 193.0 861.6 C193.8 868.7 194.8 876.3 195.6 884.8 C196.3 893.3 196.5 901.1 197.5 912.5 C198.5 923.8 200.2 942.3 201.5 952.8 C202.8 963.3 204.3 967.8 205.6 975.5 C206.9 983.1 208.0 991.5 209.4 998.5 C210.8 1005.6 212.3 1011.6 214.2 1017.7 C216.1 1023.8 218.4 1029.8 221.0 1035.0 C223.6 1040.1 226.2 1044.6 229.6 1048.4 C233.0 1052.3 237.0 1055.3 241.2 1058.0 C245.4 1060.7 250.1 1062.9 254.6 1064.7 C259.1 1066.5 263.0 1067.5 268.1 1068.6 C273.2 1069.7 281.4 1071.1 285.0 1071.3 C288.6 1071.5 287.5 1071.9 290.0 1070.0 C292.5 1068.1 297.1 1064.2 300.0 1060.0 C302.9 1055.8 305.2 1051.7 307.5 1045.0 C309.8 1038.3 311.9 1027.5 313.8 1020.0 C315.6 1012.5 317.1 1005.8 318.8 1000.0 C320.4 994.2 321.9 989.0 323.8 985.0 C325.6 981.0 327.7 979.2 330.0 976.2 C332.3 973.3 335.0 970.6 337.5 967.5 C340.0 964.4 342.5 960.3 345.0 957.5 C347.5 954.7 350.0 951.9 352.5 950.8 C355.0 949.6 357.5 950.3 360.0 950.5 C362.5 950.7 365.0 952.3 367.5 952.0 C370.0 951.7 372.1 950.1 375.0 948.8 C377.9 947.4 382.3 945.5 385.0 943.8 C387.7 942.0 389.2 940.3 391.0 938.0 C392.8 935.7 393.9 934.7 396.0 930.0 C398.1 925.3 401.2 916.3 403.5 910.0 C405.8 903.7 408.0 896.2 409.5 892.0 C411.0 887.8 411.5 886.4 412.5 884.5 C413.5 882.6 414.5 881.0 415.5 880.8 C416.5 880.6 417.7 882.1 418.5 883.5 C419.3 884.9 419.8 886.6 420.5 889.0 C421.2 891.4 421.5 893.8 422.5 898.0 C423.5 902.2 425.0 908.7 426.2 914.0 C427.5 919.3 428.8 923.2 430.0 930.0 C431.2 936.8 432.5 947.5 433.8 955.0 C435.0 962.5 436.0 969.2 437.5 975.0 C439.0 980.8 440.6 986.0 442.5 990.0 C444.4 994.0 446.7 996.8 448.8 998.8 C450.8 1000.7 453.1 1001.4 455.0 1001.5 C456.9 1001.6 458.5 1000.0 460.0 999.5 C461.5 999.0 462.6 998.2 463.8 998.8 C465.1 999.4 466.1 999.9 467.5 1003.0 C468.9 1006.1 470.8 1013.4 472.5 1017.5 C474.2 1021.6 475.4 1024.8 477.5 1027.5 C479.6 1030.2 482.5 1031.7 485.0 1033.8 C487.5 1035.8 490.0 1037.3 492.5 1040.0 C495.0 1042.7 497.5 1046.9 500.0 1050.0 C502.5 1053.1 505.2 1056.7 507.5 1058.8 C509.8 1060.8 512.9 1061.9 514.0 1062.5" stroke="#22b030" stroke-dasharray="5 2.2 1.2 2.2"/>
<path d="M69.0 1070.8 C69.5 1070.6 69.9 1070.2 72.0 1069.3 C74.1 1068.4 77.8 1067.6 81.5 1065.3 C85.2 1063.0 90.2 1060.3 94.0 1055.3 C97.8 1050.3 101.1 1042.8 104.0 1035.4 C106.9 1027.9 109.2 1018.7 111.5 1010.4 C113.8 1002.1 115.9 993.8 117.8 985.4 C119.6 977.1 121.1 968.8 122.8 960.5 C124.4 952.2 125.9 943.8 127.8 935.5 C129.6 927.2 131.9 918.9 134.0 910.6 C136.1 902.2 138.6 892.3 140.2 885.6 C141.9 878.9 142.4 876.0 144.0 870.6 C145.6 865.3 148.2 859.1 150.0 853.7 C151.8 848.2 153.3 844.3 155.0 837.7 C156.7 831.0 158.5 820.7 160.0 813.7 C161.5 806.7 162.5 801.4 163.8 795.8 C165.1 790.2 166.6 783.4 167.7 780.4 C168.8 777.4 169.5 776.5 170.6 777.5 C171.7 778.5 173.0 781.2 174.4 786.2 C175.8 791.2 177.8 802.2 179.2 807.3 C180.6 812.4 182.0 815.0 183.1 816.9 C184.2 818.8 184.9 819.8 186.0 818.8 C187.1 817.8 188.4 814.7 189.8 811.2 C191.2 807.7 193.2 800.5 194.6 797.7 C196.0 794.9 197.2 793.7 198.5 794.2 C199.8 794.7 201.2 796.5 202.3 800.6 C203.4 804.7 204.5 814.1 205.2 818.8 C205.9 823.4 206.0 823.7 206.5 828.5 C207.0 833.3 207.5 840.3 208.1 847.7 C208.7 855.1 209.3 864.8 210.0 872.7 C210.7 880.6 211.4 886.1 212.5 895.0 C213.6 903.9 215.0 914.1 216.3 925.9 C217.6 937.8 219.5 958.0 220.4 966.3 C221.3 974.5 221.2 970.7 221.9 975.5 C222.6 980.2 223.7 988.2 224.8 994.6 C225.9 1001.0 226.9 1007.5 228.7 1013.9 C230.5 1020.3 233.0 1027.6 235.4 1033.1 C237.8 1038.5 240.2 1042.7 243.1 1046.5 C246.0 1050.4 249.2 1053.2 252.7 1056.1 C256.2 1059.0 260.0 1061.6 264.2 1063.8 C268.4 1066.0 274.5 1068.1 278.0 1069.3 C281.5 1070.6 283.0 1071.4 285.0 1071.3 C287.0 1071.2 287.9 1071.5 290.0 1068.8 C292.1 1066.0 295.0 1060.2 297.5 1055.0 C300.0 1049.8 302.7 1042.5 305.0 1037.5 C307.3 1032.5 309.2 1027.9 311.2 1025.0 C313.3 1022.1 314.8 1020.9 317.5 1020.0 C320.2 1019.1 323.8 1019.5 327.5 1019.5 C331.2 1019.5 335.8 1020.1 340.0 1020.0 C344.2 1019.9 348.3 1020.0 352.5 1018.8 C356.7 1017.5 360.8 1015.2 365.0 1012.5 C369.2 1009.8 373.3 1005.8 377.5 1002.5 C381.7 999.2 386.7 995.5 390.0 993.0 C393.3 990.5 395.0 989.5 397.5 987.5 C400.0 985.5 402.5 983.1 405.0 981.2 C407.5 979.4 410.0 977.7 412.5 976.2 C415.0 974.8 417.7 974.2 420.0 972.5 C422.3 970.8 424.4 968.1 426.2 966.2 C428.1 964.4 429.8 961.0 431.2 961.2 C432.7 961.5 433.5 964.0 435.0 967.5 C436.5 971.0 438.3 977.9 440.0 982.5 C441.7 987.1 443.1 991.5 445.0 995.0 C446.9 998.5 449.2 1001.5 451.2 1003.8 C453.3 1006.0 455.2 1008.0 457.5 1008.8 C459.8 1009.5 462.5 1008.4 465.0 1008.0 C467.5 1007.6 470.4 1006.3 472.5 1006.2 C474.6 1006.2 475.8 1005.6 477.5 1007.5 C479.2 1009.4 480.8 1013.8 482.5 1017.5 C484.2 1021.2 485.4 1025.4 487.5 1030.0 C489.6 1034.6 492.5 1040.4 495.0 1045.0 C497.5 1049.6 500.0 1054.8 502.5 1057.5 C505.0 1060.2 508.1 1060.4 510.0 1061.2 C511.9 1062.1 513.3 1062.3 514.0 1062.5" stroke="#8c3cd8" stroke-dasharray="1.5 1.3"/>
</g>
<rect x="69.0" y="767.3" width="444.5" height="304.0" fill="none" stroke="#000" stroke-width="1.6"/>
<path d="M118.4 1071.3 v-8.5 M118.4 767.3 v8.5 M167.8 1071.3 v-4.5 M167.8 767.3 v4.5 M217.2 1071.3 v-8.5 M217.2 767.3 v8.5 M266.6 1071.3 v-4.5 M266.6 767.3 v4.5 M315.9 1071.3 v-8.5 M315.9 767.3 v8.5 M365.3 1071.3 v-4.5 M365.3 767.3 v4.5 M414.7 1071.3 v-8.5 M414.7 767.3 v8.5 M464.1 1071.3 v-4.5 M464.1 767.3 v4.5 M69.0 1040.9 h4.5 M513.5 1040.9 h-4.5 M69.0 1010.5 h8.5 M513.5 1010.5 h-8.5 M69.0 980.1 h4.5 M513.5 980.1 h-4.5 M69.0 949.7 h8.5 M513.5 949.7 h-8.5 M69.0 919.3 h4.5 M513.5 919.3 h-4.5 M69.0 888.9 h8.5 M513.5 888.9 h-8.5 M69.0 858.5 h4.5 M513.5 858.5 h-4.5 M69.0 828.1 h8.5 M513.5 828.1 h-8.5 M69.0 797.7 h4.5 M513.5 797.7 h-4.5" stroke="#000" stroke-width="1.6" fill="none"/>
<text x="61" y="1079.2" text-anchor="end" font-size="23.5" font-family="Liberation Serif, Times New Roman, serif" stroke="#000" stroke-width="0.3">0</text>
<text x="61" y="1018.4" text-anchor="end" font-size="23.5" font-family="Liberation Serif, Times New Roman, serif" stroke="#000" stroke-width="0.3">0.2</text>
<text x="61" y="957.6" text-anchor="end" font-size="23.5" font-family="Liberation Serif, Times New Roman, serif" stroke="#000" stroke-width="0.3">0.4</text>
<text x="61" y="896.8" text-anchor="end" font-size="23.5" font-family="Liberation Serif, Times New Roman, serif" stroke="#000" stroke-width="0.3">0.6</text>
<text x="61" y="836.0" text-anchor="end" font-size="23.5" font-family="Liberation Serif, Times New Roman, serif" stroke="#000" stroke-width="0.3">0.8</text>
<text x="61" y="775.2" text-anchor="end" font-size="23.5" font-family="Liberation Serif, Times New Roman, serif" stroke="#000" stroke-width="0.3">1</text>
<text x="118.4" y="1095.8" text-anchor="middle" font-size="23.5" font-family="Liberation Serif, Times New Roman, serif" stroke="#000" stroke-width="0.3">1</text>
<text x="217.2" y="1095.8" text-anchor="middle" font-size="23.5" font-family="Liberation Serif, Times New Roman, serif" stroke="#000" stroke-width="0.3">2</text>
<text x="315.9" y="1095.8" text-anchor="middle" font-size="23.5" font-family="Liberation Serif, Times New Roman, serif" stroke="#000" stroke-width="0.3">3</text>
<text x="414.7" y="1095.8" text-anchor="middle" font-size="23.5" font-family="Liberation Serif, Times New Roman, serif" stroke="#000" stroke-width="0.3">4</text>
<text x="513.5" y="1095.8" text-anchor="middle" font-size="23.5" font-family="Liberation Serif, Times New Roman, serif" stroke="#000" stroke-width="0.3">5</text>
<text x="291.0" y="1120.5" text-anchor="middle" font-size="23" font-family="Liberation Serif, Times New Roman, serif" stroke="#000" stroke-width="0.3">Frequency (THz)</text>
<text transform="translate(18.8 919.3) rotate(-90)" text-anchor="middle" font-size="23.3" font-family="Liberation Serif, Times New Roman, serif" stroke="#000" stroke-width="0.3">Absorption</text>
<text x="12.5" y="773.8" font-size="21.5" font-family="Liberation Serif, Times New Roman, serif" stroke="#000" stroke-width="0.3">(c)</text>
<rect x="237.0" y="138.0" width="96.7" height="108.0" fill="#fff" stroke="#000" stroke-width="1.2"/>
<line x1="242.5" x2="270.5" y1="148.2" y2="148.2" stroke="#000000" stroke-width="1.60" stroke-dasharray="3.7 2.1"/>
<text x="281.5" y="154.0" font-size="17.5" font-family="Liberation Serif, Times New Roman, serif" stroke="#000" stroke-width="0.3">0.35eV</text>
<line x1="242.5" x2="270.5" y1="169.8" y2="169.8" stroke="#2525c8" stroke-width="1.60" stroke-dasharray="7.3 6"/>
<text x="281.5" y="175.7" font-size="17.5" font-family="Liberation Serif, Times New Roman, serif" stroke="#000" stroke-width="0.3">0.45eV</text>
<line x1="242.5" x2="270.5" y1="191.5" y2="191.5" stroke="#d42828" stroke-width="1.60"/>
<text x="281.5" y="197.3" font-size="17.5" font-family="Liberation Serif, Times New Roman, serif" stroke="#000" stroke-width="0.3">0.54eV</text>
<line x1="242.5" x2="270.5" y1="213.1" y2="213.1" stroke="#22b030" stroke-width="1.60" stroke-dasharray="5 2.2 1.2 2.2"/>
<text x="281.5" y="218.9" font-size="17.5" font-family="Liberation Serif, Times New Roman, serif" stroke="#000" stroke-width="0.3">0.65eV</text>
<line x1="242.5" x2="270.5" y1="234.8" y2="234.8" stroke="#8c3cd8" stroke-width="1.60" stroke-dasharray="1.5 1.3"/>
<text x="281.5" y="240.6" font-size="17.5" font-family="Liberation Serif, Times New Roman, serif" stroke="#000" stroke-width="0.3">0.85eV</text>
<rect x="214.3" y="513.3" width="96.5" height="108.0" fill="#fff" stroke="#000" stroke-width="1.2"/>
<line x1="220.0" x2="249.2" y1="523.2" y2="523.2" stroke="#000000" stroke-width="1.60" stroke-dasharray="3.7 2.1"/>
<text x="259.5" y="529.0" font-size="17.5" font-family="Liberation Serif, Times New Roman, serif" stroke="#000" stroke-width="0.3">0.46eV</text>
<line x1="220.0" x2="249.2" y1="545.0" y2="545.0" stroke="#2525c8" stroke-width="1.60" stroke-dasharray="7.3 6"/>
<text x="259.5" y="550.8" font-size="17.5" font-family="Liberation Serif, Times New Roman, serif" stroke="#000" stroke-width="0.3">0.40eV</text>
<line x1="220.0" x2="249.2" y1="566.7" y2="566.7" stroke="#d42828" stroke-width="1.60"/>
<text x="259.5" y="572.5" font-size="17.5" font-family="Liberation Serif, Times New Roman, serif" stroke="#000" stroke-width="0.3">0.35eV</text>
<line x1="220.0" x2="249.2" y1="588.5" y2="588.5" stroke="#22b030" stroke-width="1.60" stroke-dasharray="5 2.2 1.2 2.2"/>
<text x="259.5" y="594.2" font-size="17.5" font-family="Liberation Serif, Times New Roman, serif" stroke="#000" stroke-width="0.3">0.30eV</text>
<line x1="220.0" x2="249.2" y1="610.2" y2="610.2" stroke="#8c3cd8" stroke-width="1.60" stroke-dasharray="1.5 1.3"/>
<text x="259.5" y="616.0" font-size="17.5" font-family="Liberation Serif, Times New Roman, serif" stroke="#000" stroke-width="0.3">0.20eV</text>
<rect x="110.0" y="956.2" width="167.0" height="101.3" fill="#fff" stroke="#000" stroke-width="1.2"/>
<line x1="114.0" x2="135.5" y1="964.8" y2="964.8" stroke="#000000" stroke-width="1.60" stroke-dasharray="3.7 2.1"/>
<text x="144.0" y="969.6" font-size="14.5" font-family="Liberation Serif, Times New Roman, serif" stroke="#000" stroke-width="0.08" textLength="132.0" lengthAdjust="spacingAndGlyphs"><tspan>&#956;</tspan><tspan font-size="9.5" dy="3">c1</tspan><tspan dy="-3">=0.46 eV,&#956;</tspan><tspan font-size="9.5" dy="3">c2</tspan><tspan dy="-3">=0.35 eV</tspan></text>
<line x1="114.0" x2="135.5" y1="985.3" y2="985.3" stroke="#2525c8" stroke-width="1.60" stroke-dasharray="7.3 6"/>
<text x="144.0" y="990.1" font-size="14.5" font-family="Liberation Serif, Times New Roman, serif" stroke="#000" stroke-width="0.08" textLength="132.0" lengthAdjust="spacingAndGlyphs"><tspan>&#956;</tspan><tspan font-size="9.5" dy="3">c1</tspan><tspan dy="-3">=0.40 eV,&#956;</tspan><tspan font-size="9.5" dy="3">c2</tspan><tspan dy="-3">=0.45 eV</tspan></text>
<line x1="114.0" x2="135.5" y1="1005.8" y2="1005.8" stroke="#d42828" stroke-width="1.60"/>
<text x="144.0" y="1010.6" font-size="14.5" font-family="Liberation Serif, Times New Roman, serif" stroke="#000" stroke-width="0.08" textLength="132.0" lengthAdjust="spacingAndGlyphs"><tspan>&#956;</tspan><tspan font-size="9.5" dy="3">c1</tspan><tspan dy="-3">=0.35 eV,&#956;</tspan><tspan font-size="9.5" dy="3">c2</tspan><tspan dy="-3">=0.54 eV</tspan></text>
<line x1="114.0" x2="135.5" y1="1026.3" y2="1026.3" stroke="#22b030" stroke-width="1.60" stroke-dasharray="5 2.2 1.2 2.2"/>
<text x="144.0" y="1031.1" font-size="14.5" font-family="Liberation Serif, Times New Roman, serif" stroke="#000" stroke-width="0.08" textLength="132.0" lengthAdjust="spacingAndGlyphs"><tspan>&#956;</tspan><tspan font-size="9.5" dy="3">c1</tspan><tspan dy="-3">=0.30 eV,&#956;</tspan><tspan font-size="9.5" dy="3">c2</tspan><tspan dy="-3">=0.65 eV</tspan></text>
<line x1="114.0" x2="135.5" y1="1046.8" y2="1046.8" stroke="#8c3cd8" stroke-width="1.60" stroke-dasharray="1.5 1.3"/>
<text x="144.0" y="1051.6" font-size="14.5" font-family="Liberation Serif, Times New Roman, serif" stroke="#000" stroke-width="0.08" textLength="132.0" lengthAdjust="spacingAndGlyphs"><tspan>&#956;</tspan><tspan font-size="9.5" dy="3">c1</tspan><tspan dy="-3">=0.20 eV,&#956;</tspan><tspan font-size="9.5" dy="3">c2</tspan><tspan dy="-3">=0.85 eV</tspan></text>
</svg></body></html>
